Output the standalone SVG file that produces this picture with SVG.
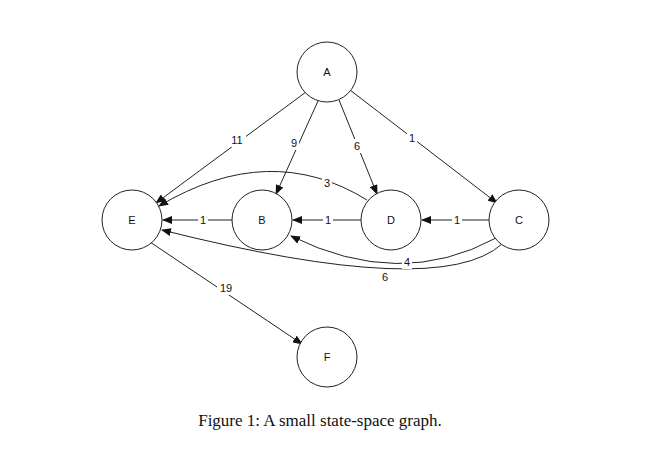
<svg xmlns="http://www.w3.org/2000/svg" width="658" height="463" viewBox="0 0 658 463">
<style>
.n{fill:#fff;stroke:#222;stroke-width:1}
.t{font-family:"Liberation Sans",Arial,sans-serif;font-size:11px;text-anchor:middle;dominant-baseline:central;fill:#111}
.e{fill:none;stroke:#222;stroke-width:1;marker-end:url(#ah)}
.lb{fill:#fff}
.cap{font-family:"Liberation Serif","Times New Roman",serif;font-size:17px;text-anchor:middle;fill:#111}
</style>
<defs><marker id="ah" markerWidth="10" markerHeight="8" refX="9" refY="4" orient="auto" markerUnits="userSpaceOnUse"><path d="M0,0 L10,4 L0,8 z" fill="#111"/></marker></defs>
<rect width="658" height="463" fill="#fff"/>
<g id="connectors">
<path class="e" d="M306,92 L156,203"/>
<path class="e" d="M318,101 L276,194"/>
<path class="e" d="M339,100 L377,194"/>
<path class="e" d="M350,90 L497,203"/>
<path class="e" d="M367,200 Q270,140 159,206"/>
<path class="e" d="M232,220 L163,220"/>
<path class="e" d="M361,220 L293,220"/>
<path class="e" d="M489,220 L422,220"/>
<path class="e" d="M496,238 Q400,290 291,236"/>
<path class="e" d="M502,244 Q440,300 162,230"/>
<path class="e" d="M150,242 L302,344"/>
<g class="t">
<rect class="lb" x="228" y="133" width="18" height="14"/><text class="t" x="237" y="140">11</text>
<rect class="lb" x="289" y="136" width="10" height="14"/><text class="t" x="294" y="143">9</text>
<rect class="lb" x="352" y="139" width="10" height="14"/><text class="t" x="357" y="146">6</text>
<rect class="lb" x="407" y="131" width="10" height="14"/><text class="t" x="412" y="138">1</text>
<rect class="lb" x="322" y="176" width="10" height="14"/><text class="t" x="327" y="183">3</text>
<rect class="lb" x="198" y="213" width="10" height="14"/><text class="t" x="203" y="220">1</text>
<rect class="lb" x="323" y="213" width="10" height="14"/><text class="t" x="328" y="220">1</text>
<rect class="lb" x="452" y="213" width="10" height="14"/><text class="t" x="457" y="220">1</text>
<rect class="lb" x="402" y="255" width="10" height="14"/><text class="t" x="407" y="262">4</text>
<rect class="lb" x="380" y="270" width="10" height="14"/><text class="t" x="385" y="277">6</text>
<rect class="lb" x="217" y="281" width="18" height="14"/><text class="t" x="226" y="288">19</text>
</g>
</g>
<g id="A"><circle class="n" cx="327" cy="72" r="30"/><text class="t" x="327" y="72">A</text></g>
<g id="E"><circle class="n" cx="132" cy="220" r="30"/><text class="t" x="132" y="220">E</text></g>
<g id="B"><circle class="n" cx="262" cy="220" r="30"/><text class="t" x="262" y="220">B</text></g>
<g id="D"><circle class="n" cx="391" cy="220" r="30"/><text class="t" x="391" y="220">D</text></g>
<g id="C"><circle class="n" cx="519" cy="220" r="30"/><text class="t" x="519" y="220">C</text></g>
<g id="F"><circle class="n" cx="327" cy="357" r="30"/><text class="t" x="327" y="357">F</text></g>
<text class="cap" x="320" y="426">Figure 1:  A small state-space graph.</text>
</svg>
